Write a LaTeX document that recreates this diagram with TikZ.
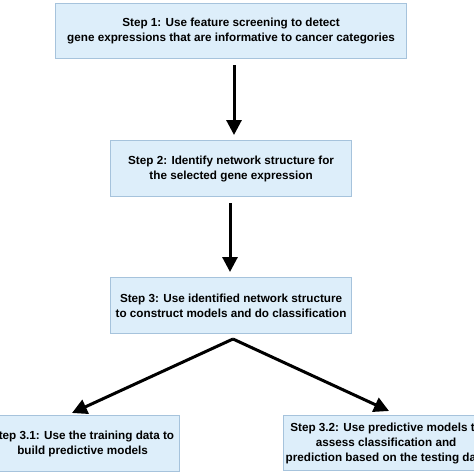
\documentclass[tikz,border=0pt]{standalone}
\usepackage{fontspec}
\setmainfont{Liberation Sans}
\usetikzlibrary{arrows.meta}
\definecolor{boxfill}{HTML}{DDEEFA}
\definecolor{boxline}{HTML}{A6C3DC}
\begin{document}
\begin{tikzpicture}[x=1pt,y=-1pt,
  stepbox/.style={draw=boxline,line width=1.2pt,fill=boxfill,align=center,
    font=\fontsize{11.7}{15}\selectfont\bfseries,inner sep=0pt,anchor=north west},
  flow/.style={line width=3pt,-{Triangle[width=15pt,length=15pt]}}]
\useasboundingbox (0,0) rectangle (474,474);
\clip (0,0) rectangle (474,474);
\fill[white] (0,0) rectangle (474,474);
\node[stepbox,minimum width=351pt,minimum height=55pt] (s1) at (55,3)
  {Step 1: Use feature screening to detect\\gene expressions that are informative to cancer categories};
\node[stepbox,minimum width=241pt,minimum height=56pt] (s2) at (110,140)
  {Step 2: Identify network structure for\\the selected gene expression};
\node[stepbox,minimum width=241pt,minimum height=56pt] (s3) at (110,277)
  {Step 3: Use identified network structure\\to construct models and do classification};
\node[stepbox,minimum width=194pt,minimum height=56pt] (s31) at (-15,415)
  {Step 3.1: Use the training data to\\build predictive models};
\node[stepbox,minimum width=205pt,minimum height=55pt] (s32) at (283,415)
  {Step 3.2: Use predictive models to\\assess classification and\hspace*{26pt}\\prediction based on the testing data};
\coordinate (a1s) at (234,65);
\coordinate (a1e) at (234,135);
\coordinate (a2s) at (230,203);
\coordinate (a2e) at (230,272);
\coordinate (a3s) at (233,339);
\coordinate (t31) at (72,413);
\coordinate (t32) at (389,411);
\draw[flow] (a1s) -- (a1e);
\draw[flow] (a2s) -- (a2e);
\draw[flow] (a3s) -- (t31);
\draw[flow] (a3s) -- (t32);
\end{tikzpicture}
\end{document}
